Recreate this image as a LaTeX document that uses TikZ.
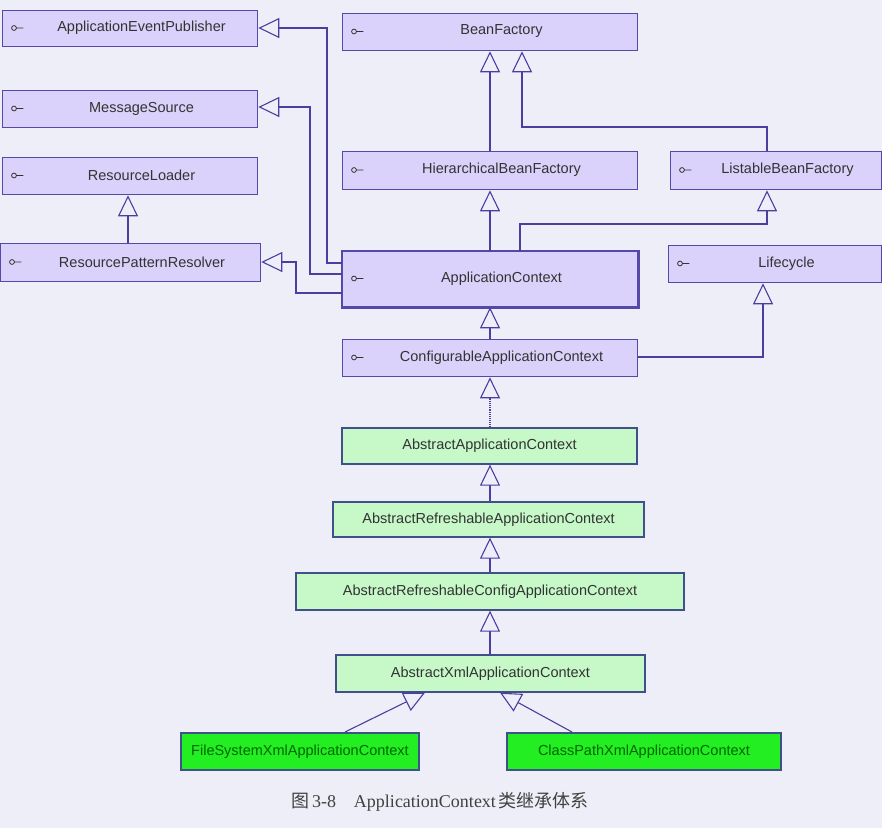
\documentclass[tikz,border=0pt]{standalone}
\usepackage{fontspec}
\setmainfont{Liberation Sans}
\newfontfamily\capfont{Liberation Serif}
\newfontfamily\cjk{Noto Sans CJK SC}
\usetikzlibrary{arrows.meta}
\definecolor{bgc}{HTML}{EEEEF8}
\definecolor{ifill}{HTML}{DAD2FA}
\definecolor{ibord}{HTML}{5548A8}
\definecolor{lnc}{HTML}{4A3EA0}
\definecolor{gfill}{HTML}{C6F8C8}
\definecolor{gbord}{HTML}{40508A}
\definecolor{bgreen}{HTML}{22EE22}
\definecolor{txt}{HTML}{333333}
\begin{document}
\begin{tikzpicture}[x=1pt,y=-1pt,
  box/.style={draw=ibord,line width=1.3pt,fill=ifill,inner sep=0pt,text=txt,font=\fontsize{14.5}{16}\selectfont},
  gbox/.style={box,draw=gbord,fill=gfill},
  ggbox/.style={box,draw=gbord,line width=2pt,fill=bgreen,text=green!40!black},
  ln/.style={draw=lnc,line width=1.1pt},
  inh/.style={ln,-{Triangle[open,length=21pt,width=20pt,fill=bgc]}},
  icon/.style={draw=txt,line width=0.8pt}]
\fill[bgc] (0,0) rectangle (882,828);
\useasboundingbox (0,0) rectangle (882,828);
\newcommand\ibox[6]{% name, x1,y1,x2,y2,text
  \node[box,minimum width=#4-#2,minimum height=#5-#3,anchor=north west] (#1) at (#2,#3) {};
  \node[text=txt,font=\fontsize{14.5}{16}\selectfont] (#1t) at ({(#2+#4)/2+12},{(#3+#5)/2}) {#6};
  \draw[icon] (#2+12,{(#3+#5)/2}) circle (2.4pt) ++(2.4,0) -- ++(7,0);}
\ibox{aep}{2}{10}{257}{46}{ApplicationEventPublisher}
\ibox{ms}{2}{90}{257}{127}{MessageSource}
\ibox{rl}{2}{157}{257}{194}{ResourceLoader}
\ibox{rpr}{0}{243}{260}{281}{ResourcePatternResolver}
\ibox{bf}{342}{13}{637}{50}{BeanFactory}
\ibox{hbf}{342}{151}{637}{189}{HierarchicalBeanFactory}
\ibox{lbf}{670}{151}{881}{189}{ListableBeanFactory}
\ibox{lc}{668}{245}{881}{282}{Lifecycle}
\ibox{cac}{342}{339}{637}{376}{ConfigurableApplicationContext}
\ibox{ac}{342}{251}{637}{306}{ApplicationContext}
\draw[ibord,line width=2.4pt] (ac.north west) rectangle (ac.south east);
\node[gbox,minimum width=295,minimum height=36] (aac) at (489.5,446) {AbstractApplicationContext};
\node[gbox,minimum width=311,minimum height=35] (arac) at (488.5,519.5) {AbstractRefreshableApplicationContext};
\node[gbox,minimum width=388,minimum height=37] (arcac) at (490,591.5) {AbstractRefreshableConfigApplicationContext};
\node[gbox,minimum width=309,minimum height=37] (axac) at (490.5,673.5) {AbstractXmlApplicationContext};
\node[ggbox,minimum width=238,minimum height=37] (fsx) at (300,751.5) {FileSystemXmlApplicationContext};
\node[ggbox,minimum width=274,minimum height=37] (cpx) at (644,751.5) {ClassPathXmlApplicationContext};
\draw[inh] (ac.west|-0,263) -| (327,28) -- (aep.east|-0,28);
\draw[inh] (ac.west|-0,274) -| (310,107) -- (ms.east|-0,107);
\draw[inh] (ac.west|-0,293) -| (296,262) -- (rpr.east|-0,262);
\draw[inh] (rpr.north-|128,0) -- (rl.south-|128,0);
\draw[inh] (hbf.north-|490,0) -- (bf.south-|490,0);
\draw[inh] (lbf.north-|767,0) |- (522,127) -- (bf.south-|522,0);
\draw[inh] (ac.north-|490,0) -- (hbf.south-|490,0);
\draw[inh] (ac.north-|520,0) |- (767,224) -- (lbf.south-|767,0);
\draw[inh] (cac.north-|490,0) -- (ac.south-|490,0);
\draw[inh] (cac.east|-0,357) -| (lc.south-|763,0);
\draw[ln,densely dotted] (aac.north-|490,0) -- (490,398);
\draw[inh] (490,398) -- (cac.south-|490,0);
\draw[inh] (arac.north-|490,0) -- (aac.south-|490,0);
\draw[inh] (arcac.north-|490,0) -- (arac.south-|490,0);
\draw[inh] (axac.north-|490,0) -- (arcac.south-|490,0);
\draw[inh] (fsx.north-|345,0) -- (axac.south-|425,0);
\draw[inh] (cpx.north-|572,0) -- (axac.south-|500,0);
\node[font=\capfont\fontsize{18}{20}\selectfont,text=black!75] (cap) at (440,802) {{\cjk 图}\,3-8\quad ApplicationContext\,{\cjk 类继承体系}};
\end{tikzpicture}
\end{document}
